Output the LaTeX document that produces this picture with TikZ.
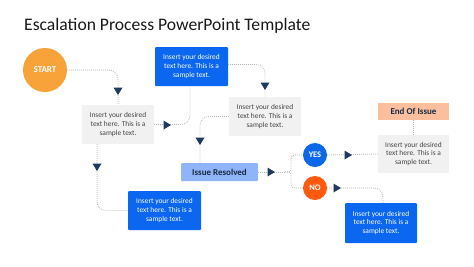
\documentclass[tikz,border=0pt]{standalone}
\usepackage{fontspec}
\setmainfont{Carlito}
\definecolor{startor}{HTML}{F8A23A}
\definecolor{boxblue}{HTML}{0B66F0}
\definecolor{yesblue}{HTML}{0D68E8}
\definecolor{noor}{HTML}{FF5A0E}
\definecolor{issueblue}{HTML}{8FB4F8}
\definecolor{endor}{HTML}{FBBF9D}
\definecolor{boxgray}{HTML}{F1F1F1}
\definecolor{navy}{HTML}{1F3A5E}
\definecolor{txtgray}{HTML}{444444}
\definecolor{linegray}{HTML}{B8B8B8}
\tikzset{
  txt/.style={font=\fontsize{7.4}{8.6}\selectfont, align=center, inner sep=0pt},
  bluebox/.style={txt, fill=boxblue, text=white, minimum width=73pt, minimum height=39pt, rounded corners=1pt},
  graybox/.style={txt, fill=boxgray, text=txtgray, minimum width=72pt, minimum height=39pt},
  labelbox/.style={font=\fontsize{9}{10}\selectfont\bfseries, text=navy!70!black, inner sep=0pt, rounded corners=1pt},
  circ/.style={circle, inner sep=0pt, text=white, font=\fontsize{9}{10}\selectfont\bfseries},
  dotline/.style={draw=linegray, line width=0.8pt, dash pattern=on 0.8pt off 1.2pt, rounded corners=9pt},
  pics/triD/.style={code={\fill[navy] (-4.5,-3.5) -- (4.5,-3.5) -- (0,4) -- cycle;}},
  pics/triR/.style={code={\fill[navy] (-3.5,-4.5) -- (-3.5,4.5) -- (4,0) -- cycle;}},
}
\begin{document}
\begin{tikzpicture}[x=1pt, y=-1pt]
\useasboundingbox (0,0) rectangle (474,266);
\fill[white] (0,0) rectangle (474,266);
\node[anchor=base west, inner sep=0pt, font=\fontsize{17.6}{20}\selectfont, text=black!90] (title) at (24,30) {Escalation Process PowerPoint Template};

\node[circ, fill=startor, minimum size=44pt] (start) at (45,70) {START};
\node[bluebox] (blue1) at (191.5,66.5) {Insert your desired\\text here. This is a\\sample text.};
\node[graybox] (gray1) at (118,124.5) {Insert your desired\\text here. This is a\\sample text.};
\node[graybox] (gray2) at (265,116.5) {Insert your desired\\text here. This is a\\sample text.};
\node[bluebox] (blue2) at (164.5,210.5) {Insert your desired\\text here. This is a\\sample text.};
\node[labelbox, fill=issueblue, minimum width=77pt, minimum height=18pt] (issue) at (219.5,172) {Issue Resolved};
\node[circ, fill=yesblue, minimum size=24pt, font=\fontsize{8.5}{10}\selectfont\bfseries] (yes) at (315,155) {YES};
\node[circ, fill=noor, minimum size=24pt, font=\fontsize{8.5}{10}\selectfont\bfseries] (no) at (315,188) {NO};
\node[graybox, minimum width=71pt, minimum height=38pt] (gray3) at (413.5,154) {Insert your desired\\text here. This is a\\sample text.};
\node[labelbox, fill=endor, minimum width=71pt, minimum height=17pt, rounded corners=0pt] (endi) at (413.5,111.5) {End Of Issue};
\node[bluebox, minimum width=72pt, minimum height=40pt] (blue3) at (381,223) {Insert your desired\\text here. This is a\\sample text.};

\coordinate (split) at (285,172);

% connectors
\draw[dotline] (start.east) -| (gray1.north);
\draw[dotline] (gray1.east) -| ([xshift=-1.5pt]blue1.south);
\draw[dotline] ([yshift=2pt]blue1.east) -| (gray2.north);
\draw[dotline] (gray2.west) -| ([xshift=-19.5pt]issue.north);
\draw[dotline] ([xshift=-21pt]gray1.south) |- (blue2.west);
\draw[dotline] (issue.east) -- (split);
\draw[draw=linegray, line width=0.8pt, dash pattern=on 0.8pt off 1.2pt] (split) .. controls (291,172) and (291,172) .. (291,166) -- (291,161) .. controls (291,155) and (291,155) .. (yes.west);
\draw[draw=linegray, line width=0.8pt, dash pattern=on 0.8pt off 1.2pt] (split) .. controls (291,172) and (291,172) .. (291,178) -- (291,182) .. controls (291,188) and (291,188) .. (no.west);
\draw[dotline] (yes.east) -- (gray3.west);
\draw[dotline] (gray3.north) -- (endi.south);
\draw[dotline] (no.east) -| ([xshift=2pt]blue3.north);

% arrowheads
\pic at (118,91) {triD};
\pic at (167,125) {triR};
\pic at (265,86) {triD};
\pic at (200,141) {triD};
\pic at (97,167) {triD};
\pic at (271,172) {triR};
\pic at (348,155) {triR};
\pic at (337,188) {triR};
\end{tikzpicture}
\end{document}
